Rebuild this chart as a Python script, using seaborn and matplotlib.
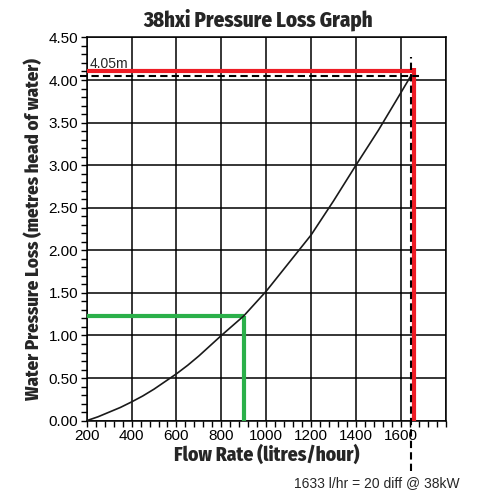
import numpy as np
import pandas as pd
import seaborn as sns
import matplotlib.pyplot as plt
from matplotlib.ticker import MultipleLocator

# values
flow = [200, 250, 300, 350, 400, 450, 500, 550, 600, 650, 700, 750, 800, 900, 1000,
        1100, 1200, 1300, 1400, 1500, 1600, 1645]
loss = [0.0, 0.045, 0.10, 0.155, 0.22, 0.29, 0.37, 0.46, 0.55, 0.65, 0.76, 0.88, 1.0, 1.23, 1.52,
        1.85, 2.18, 2.58, 3.0, 3.41, 3.85, 4.05]

x_ticks = [200, 400, 600, 800, 1000, 1200, 1400, 1600, 1800]
x_labels = ['200', '400', '600', '800', '1000', '1200', '1400', '1600', '']
y_ticks = [0.0, 0.5, 1.0, 1.5, 2.0, 2.5, 3.0, 3.5, 4.0, 4.5]

design_flow = 1645
design_loss = 4.05
red_flow = 1660
red_loss = 4.1
green_flow = 900
green_loss = 1.23

df = pd.DataFrame({'flow': flow, 'loss': loss})

sns.set_style("ticks")
plt.rcParams['font.family'] = ['Liberation Sans', 'DejaVu Sans']

fig = plt.figure(figsize=(4.79, 4.99), dpi=100)
ax = fig.add_axes([0.181, 0.157, 0.7495, 0.768])

sns.lineplot(data=df, x='flow', y='loss', color='#1a1a1a', linewidth=1.2, ax=ax, zorder=5)

# green marker lines
ax.plot([200, green_flow], [green_loss, green_loss], color='#2bb04a', lw=3, zorder=4, solid_capstyle='butt')
ax.plot([green_flow, green_flow], [0, green_loss], color='#2bb04a', lw=3, zorder=4, solid_capstyle='butt')

# red marker lines
ax.plot([200, red_flow + 6], [red_loss, red_loss], color='#ee1c25', lw=3, zorder=4, solid_capstyle='butt')
ax.plot([red_flow, red_flow], [0, 4.14], color='#ee1c25', lw=3, zorder=4, solid_capstyle='butt')

# dashed design lines
ax.plot([170, 1683], [design_loss, design_loss], color='black', lw=1.5, ls=(0, (3.5, 2)),
        zorder=6, clip_on=False)
ax.plot([design_flow, design_flow], [-0.59, 4.27], color='black', lw=1.5, ls=(0, (3.5, 2)),
        zorder=6, clip_on=False)

ax.set_xlim(200, 1800)
ax.set_ylim(0, 4.5)
ax.set_xticks(x_ticks)
ax.set_xticklabels(x_labels)
ax.set_yticks(y_ticks)
ax.set_yticklabels([f'{v:.2f}' for v in y_ticks])
ax.xaxis.set_minor_locator(MultipleLocator(40))
ax.yaxis.set_minor_locator(MultipleLocator(0.1))
ax.tick_params(which='both', direction='out', length=4, width=1, colors='black',
               labelsize=11, pad=2)
ax.grid(True, which='major', color='black', lw=1.1)
for s in ax.spines.values():
    s.set_color('black')
    s.set_linewidth(1.1)

cond = ['Fira Sans Condensed', 'DejaVu Sans']
ax.set_title('38hxi Pressure Loss Graph', fontsize=15, fontweight=800, family=cond, pad=8, x=0.477)
ax.set_xlabel('Flow Rate (litres/hour)', fontsize=14, fontweight=800, family=cond, labelpad=1)
ax.set_ylabel('Water Pressure Loss (metres head of water)', fontsize=13.5, fontweight=800,
              family=cond, labelpad=4)

ax.text(213, 4.1, '4.05m', fontsize=10, va='bottom', ha='left')
fig.text(0.96, 0.032, '1633 l/hr = 20 diff @ 38kW', fontsize=10, ha='right', va='center')

fig.savefig('out.png', dpi=100)
